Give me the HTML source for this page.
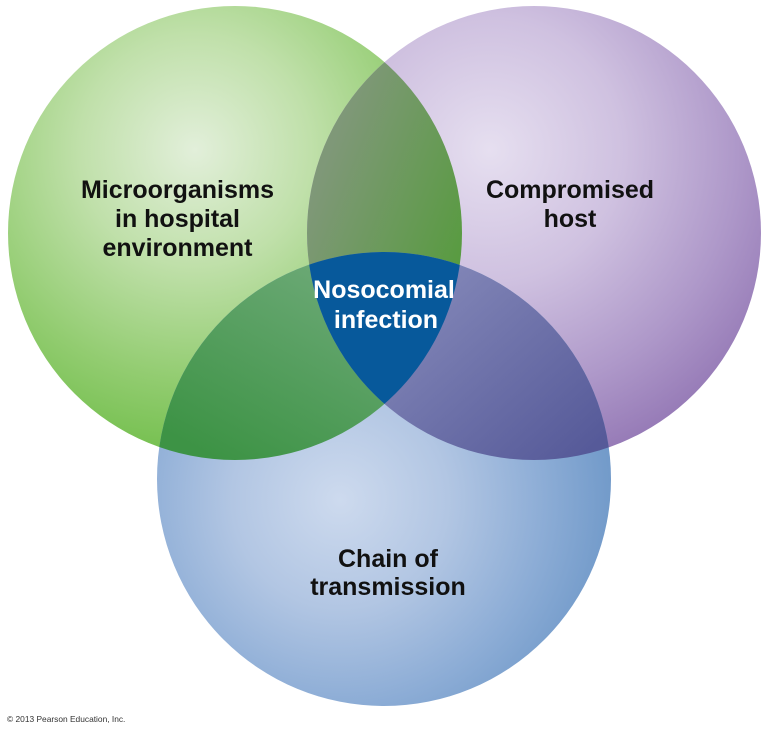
<!DOCTYPE html>
<html>
<head>
<meta charset="utf-8">
<style>
  html,body{margin:0;padding:0;background:#fff;}
  body{width:768px;height:730px;overflow:hidden;}
  svg{display:block;}
  text{font-family:"Liberation Sans", Arial, sans-serif;}
</style>
</head>
<body>
<svg width="768" height="730" viewBox="0 0 768 730" xmlns="http://www.w3.org/2000/svg">
  <defs>
    <radialGradient id="gG" gradientUnits="userSpaceOnUse" cx="195" cy="150" r="330">
      <stop offset="0" stop-color="#e2efda"/>
      <stop offset="0.35" stop-color="#c0e0aa"/>
      <stop offset="0.7" stop-color="#92cc70"/>
      <stop offset="1" stop-color="#6cbc45"/>
    </radialGradient>
    <radialGradient id="gP" gradientUnits="userSpaceOnUse" cx="490" cy="150" r="330">
      <stop offset="0" stop-color="#e6dff0"/>
      <stop offset="0.4" stop-color="#cfc1e0"/>
      <stop offset="0.75" stop-color="#ae98c9"/>
      <stop offset="1" stop-color="#9478b5"/>
    </radialGradient>
    <radialGradient id="gB" gradientUnits="userSpaceOnUse" cx="340" cy="500" r="270">
      <stop offset="0" stop-color="#cddaee"/>
      <stop offset="0.4" stop-color="#b2c6e3"/>
      <stop offset="0.75" stop-color="#8dadd6"/>
      <stop offset="1" stop-color="#739bca"/>
    </radialGradient>
    <linearGradient id="gGP" gradientUnits="userSpaceOnUse" x1="310" y1="200" x2="462" y2="260">
      <stop offset="0" stop-color="#7f9878"/>
      <stop offset="1" stop-color="#589b40"/>
    </linearGradient>
    <linearGradient id="gGB" gradientUnits="userSpaceOnUse" x1="320" y1="270" x2="220" y2="460">
      <stop offset="0" stop-color="#6aa874"/>
      <stop offset="1" stop-color="#3d9345"/>
    </linearGradient>
    <linearGradient id="gPB" gradientUnits="userSpaceOnUse" x1="430" y1="270" x2="590" y2="450">
      <stop offset="0" stop-color="#8387b8"/>
      <stop offset="1" stop-color="#565a99"/>
    </linearGradient>
    <clipPath id="cG"><circle cx="235" cy="233" r="227"/></clipPath>
    <clipPath id="cP"><circle cx="534" cy="233" r="227"/></clipPath>
    <clipPath id="cB"><circle cx="384" cy="479" r="227"/></clipPath>
  </defs>

  <circle cx="235" cy="233" r="227" fill="url(#gG)"/>
  <circle cx="534" cy="233" r="227" fill="url(#gP)"/>
  <circle cx="384" cy="479" r="227" fill="url(#gB)"/>

  <!-- green ∩ purple -->
  <g clip-path="url(#cG)"><g clip-path="url(#cP)">
    <rect x="0" y="0" width="768" height="730" fill="url(#gGP)"/>
  </g></g>
  <!-- green ∩ blue -->
  <g clip-path="url(#cG)"><g clip-path="url(#cB)">
    <rect x="0" y="0" width="768" height="730" fill="url(#gGB)"/>
  </g></g>
  <!-- purple ∩ blue -->
  <g clip-path="url(#cP)"><g clip-path="url(#cB)">
    <rect x="0" y="0" width="768" height="730" fill="url(#gPB)"/>
  </g></g>
  <!-- center -->
  <g clip-path="url(#cG)"><g clip-path="url(#cP)"><g clip-path="url(#cB)">
    <rect x="0" y="0" width="768" height="730" fill="#07599b"/>
  </g></g></g>

  <g font-weight="bold" font-size="25" fill="#111" text-anchor="middle">
    <text x="177.5" y="198">Microorganisms</text>
    <text x="177.5" y="227">in hospital</text>
    <text x="177.5" y="256">environment</text>

    <text x="570" y="198">Compromised</text>
    <text x="570" y="227">host</text>

    <text x="388" y="567">Chain of</text>
    <text x="388" y="595">transmission</text>

    <text x="384" y="298" fill="#ffffff">Nosocomial</text>
    <text x="386" y="328" fill="#ffffff">infection</text>
  </g>

  <text x="7" y="722" font-size="8.4" fill="#333">© 2013 Pearson Education, Inc.</text>
</svg>
</body>
</html>
